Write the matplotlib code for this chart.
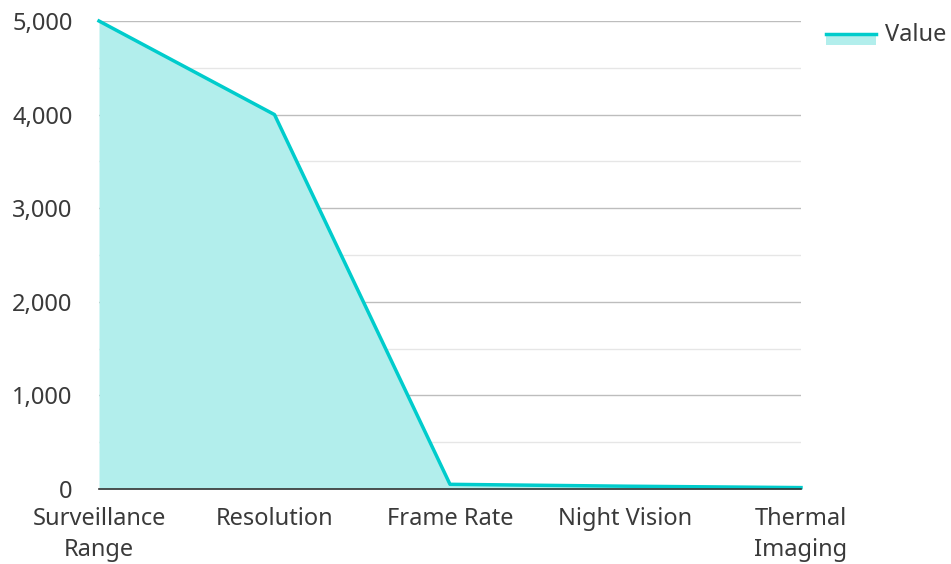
import matplotlib
matplotlib.use("Agg")
import matplotlib.pyplot as plt
from matplotlib.patches import Rectangle
from matplotlib.lines import Line2D
from matplotlib.ticker import FuncFormatter, MultipleLocator

plt.rcParams['font.family'] = ['Noto Sans', 'DejaVu Sans']

categories = ["Surveillance\nRange", "Resolution", "Frame Rate", "Night Vision", "Thermal\nImaging"]
values = [5000, 4000, 50, 30, 15]
series_name = "Value"

line_color = "#00cccc"
fill_color = "#b2eeec"
text_color = "#3a3a3a"
W, H = 951, 564

fig = plt.figure(figsize=(W / 100, H / 100), dpi=100)
ax = fig.add_axes([99 / W, 1 - 489 / H, (801 - 99) / W, (489 - 21) / H])

x = list(range(len(categories)))
ax.fill_between(x, values, 0, color=fill_color, linewidth=0, zorder=2)
ax.plot(x, values, color=line_color, linewidth=2.5, zorder=3, clip_on=False)

ax.set_xlim(0, len(categories) - 1)
ax.set_ylim(0, 5000)
ax.yaxis.set_major_locator(MultipleLocator(1000))
ax.yaxis.set_minor_locator(MultipleLocator(500))
ax.yaxis.set_major_formatter(FuncFormatter(lambda v, p: f"{int(v):,}"))
ax.grid(axis="y", which="major", color="#bdbdbd", linewidth=1, zorder=0)
ax.grid(axis="y", which="minor", color="#e6e6e6", linewidth=1, zorder=0)

ax.set_xticks(x)
ax.set_xticklabels(categories, fontsize=17, color=text_color, linespacing=1.38)
ax.tick_params(axis="y", which="both", length=0, labelsize=17, labelcolor=text_color, pad=19)
ax.tick_params(axis="x", length=0, pad=13)
for side in ("top", "right", "left"):
    ax.spines[side].set_visible(False)
ax.spines["bottom"].set_color("#333333")
ax.spines["bottom"].set_linewidth(1.2)
ax.spines["bottom"].set_zorder(4)

# legend swatch: filled area with the line along its top edge
fig.patches.append(Rectangle((826 / W, 1 - 45 / H), 50 / W, 12 / H,
                             transform=fig.transFigure, facecolor=fill_color, edgecolor="none"))
fig.lines.append(Line2D([826 / W, 876 / W], [1 - 34 / H, 1 - 34 / H],
                        transform=fig.transFigure, color=line_color, linewidth=2.5))
fig.text(885 / W, 1 - 35 / H, series_name, fontsize=17, color=text_color, va="center", ha="left")

fig.savefig("out.png", dpi=100)
